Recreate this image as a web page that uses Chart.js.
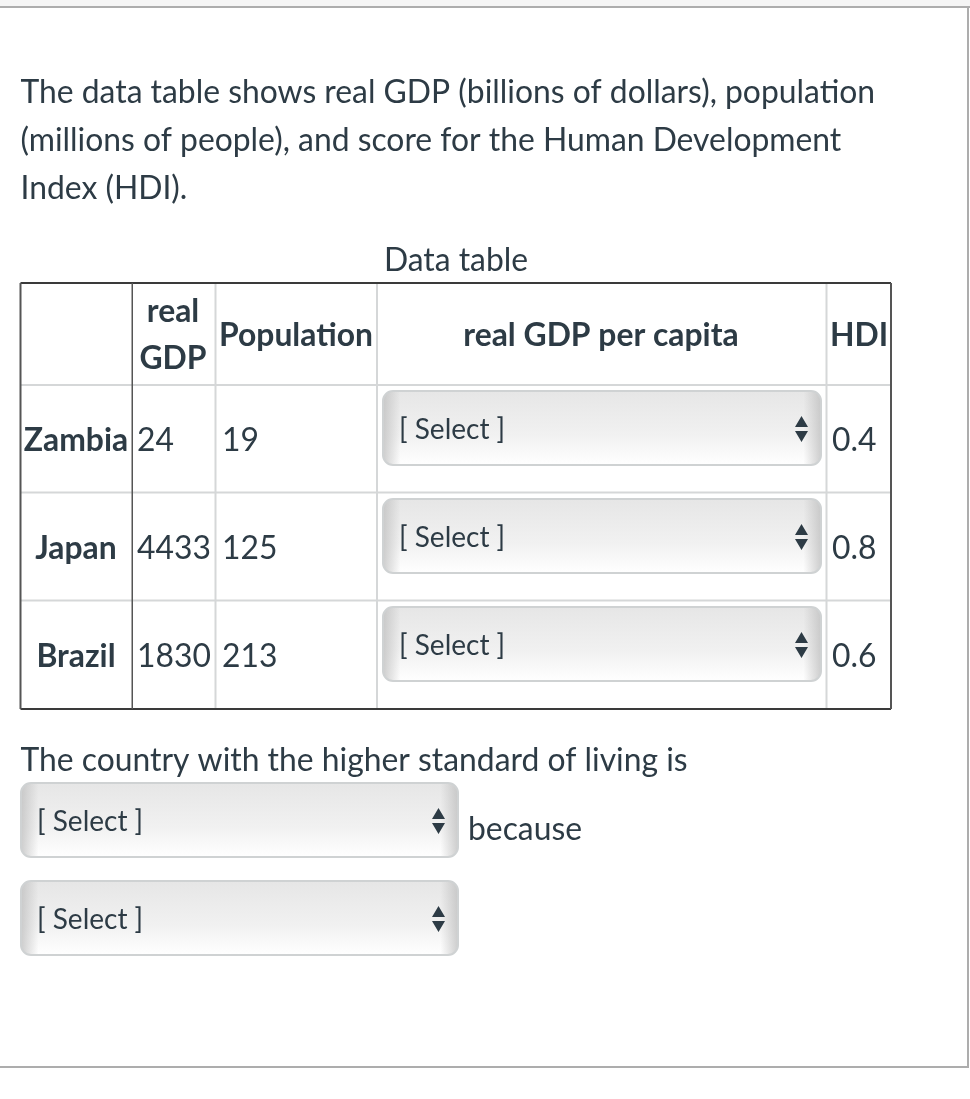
<!DOCTYPE html>
<html>
<head>
<meta charset="utf-8">
<script src="https://cdn.jsdelivr.net/npm/chart.js@4"></script>
<style>
html, body { margin: 0; padding: 0; background: #fff; }
#box { position: absolute; left: 0; top: 0; width: 970px; height: 1099px; }
</style>
</head>
<body>
<div id="box"><canvas id="chart"></canvas></div>
<script>
const countries = ['Zambia', 'Japan', 'Brazil'];
const realGdp = [24, 4433, 1830];
const population = [19, 125, 213];
const hdi = ['0.4', '0.8', '0.6'];

const introLines = [
  'The data table shows real GDP (billions of dollars), population',
  '(millions of people), and score for the Human Development',
  'Index (HDI).'
];
const selectLabel = '[ Select ]';

// layout, in page pixels (the scales run 0-970 and 0-1099)
const colLines = [20.5, 132.5, 215.5, 377, 826.5, 891];
const rowLines = [283, 385, 492.5, 600.5, 709];
const rowBase = [451, 559, 667];
const textColor = '#2D3B45';
const regularFont = '31.85px Lato';
const boldFont = 'bold 31.85px Lato';

function select(chart, x, y, w, h, textX, textBase) {
  const ctx = chart.ctx;
  const l = chart.scales.x.getPixelForValue(x), t = chart.scales.y.getPixelForValue(y);
  ctx.save();
  ctx.beginPath();
  ctx.roundRect(l, t, w, h, 10);
  const g = ctx.createLinearGradient(0, t, 0, t + h);
  g.addColorStop(0, '#e6e6e6');
  g.addColorStop(0.6, '#f1f1f1');
  g.addColorStop(1, '#ffffff');
  ctx.fillStyle = g;
  ctx.fill();
  ctx.clip();
  // darker sides of the control
  const side = ctx.createLinearGradient(l, 0, l + w, 0);
  side.addColorStop(0, 'rgba(190,190,190,0.75)');
  side.addColorStop(0.04, 'rgba(190,190,190,0)');
  side.addColorStop(0.96, 'rgba(190,190,190,0)');
  side.addColorStop(1, 'rgba(190,190,190,0.75)');
  ctx.fillStyle = side;
  ctx.fillRect(l, t, w, h);
  ctx.restore();

  ctx.beginPath();
  ctx.roundRect(l, t, w, h, 10);
  ctx.strokeStyle = '#cfd2d3';
  ctx.lineWidth = 2;
  ctx.stroke();

  ctx.fillStyle = textColor;
  ctx.font = '28px Lato';
  ctx.textAlign = 'left';
  ctx.fillText(selectLabel, textX, textBase);

  // up and down arrows
  const ax = l + w - 19.5, ay = t + h / 2 + 1;
  ctx.beginPath();
  ctx.moveTo(ax - 6.5, ay - 2); ctx.lineTo(ax + 6.5, ay - 2); ctx.lineTo(ax, ay - 13);
  ctx.closePath();
  ctx.moveTo(ax - 6.5, ay + 2); ctx.lineTo(ax + 6.5, ay + 2); ctx.lineTo(ax, ay + 13);
  ctx.closePath();
  ctx.fill();
}

const tablePlugin = {
  id: 'tablePlugin',
  afterDatasetsDraw(chart) {
    const ctx = chart.ctx;
    const X = v => chart.scales.x.getPixelForValue(v);
    const Y = v => chart.scales.y.getPixelForValue(v);
    ctx.save();
    ctx.textBaseline = 'alphabetic';

    // card frame
    ctx.fillStyle = '#f5f5f5';
    ctx.fillRect(0, 0, 970, 6);
    ctx.fillStyle = '#adadad';
    ctx.fillRect(0, 6, 970, 2);
    ctx.fillRect(967, 6, 2, 1062);
    ctx.fillRect(0, 1066, 969, 2);

    // intro text
    ctx.fillStyle = textColor;
    ctx.font = regularFont;
    ctx.textAlign = 'left';
    introLines.forEach((line, i) => ctx.fillText(line, X(20.5), Y(103 + i * 48)));
    ctx.textAlign = 'center';
    ctx.fillText('Data table', X(456), Y(271));

    // light inner rules
    ctx.fillStyle = '#d5d7d8';
    rowLines.slice(1, 4).forEach(r => ctx.fillRect(X(colLines[0]), Y(r) - 1, X(colLines[5]) - X(colLines[0]), 2));
    colLines.slice(2, 5).forEach(c => ctx.fillRect(X(c) - 1, Y(rowLines[0]), 2, Y(rowLines[4]) - Y(rowLines[0])));
    // dark rules
    ctx.fillStyle = '#3a3a3a';
    ctx.fillRect(X(colLines[0]), Y(rowLines[0]) - 1, X(colLines[5]) - X(colLines[0]), 2);
    ctx.fillRect(X(colLines[0]), Y(rowLines[4]) - 1, X(colLines[5]) - X(colLines[0]), 2);
    ctx.fillStyle = '#555555';
    [0, 1, 5].forEach(i => ctx.fillRect(X(colLines[i]) - 1, Y(rowLines[0]), i === 1 ? 1.5 : 2, Y(rowLines[4]) - Y(rowLines[0])));

    // header row
    ctx.fillStyle = textColor;
    ctx.font = boldFont;
    ctx.textAlign = 'center';
    ctx.fillText('real', X(173), Y(322));
    ctx.fillText('GDP', X(173), Y(369));
    ctx.fillText('Population', X(296), Y(346));
    ctx.fillText('real GDP per capita', X(601), Y(346));
    ctx.fillText('HDI', X(859), Y(346));

    // body rows
    countries.forEach((name, i) => {
      ctx.font = boldFont;
      ctx.textAlign = 'center';
      ctx.fillStyle = textColor;
      ctx.fillText(name, X(76), Y(rowBase[i]));
      ctx.font = regularFont;
      ctx.textAlign = 'left';
      ctx.fillText(String(realGdp[i]), X(137), Y(rowBase[i]));
      ctx.fillText(String(population[i]), X(222), Y(rowBase[i]));
      ctx.fillText(hdi[i], X(832), Y(rowBase[i]));
      select(chart, 383, rowBase[i] - 60, 438, 74, 399, rowBase[i] - 12);
    });

    // question below the table
    ctx.fillStyle = textColor;
    ctx.font = regularFont;
    ctx.textAlign = 'left';
    ctx.fillText('The country with the higher standard of living is', X(20.5), Y(771));
    select(chart, 21, 783, 437, 74, 37, 831);
    ctx.fillStyle = textColor;
    ctx.font = regularFont;
    ctx.textAlign = 'left';
    ctx.fillText('because', X(468), Y(840));
    select(chart, 21, 881, 437, 74, 37, 929);
    ctx.restore();
  }
};

new Chart(document.getElementById('chart'), {
  type: 'scatter',
  data: { datasets: [{ data: [], pointRadius: 0 }] },
  options: {
    responsive: true,
    maintainAspectRatio: false,
    animation: false,
    events: [],
    layout: { padding: 0 },
    plugins: { legend: { display: false }, title: { display: false }, tooltip: { enabled: false } },
    scales: {
      x: { type: 'linear', display: false, min: 0, max: 970 },
      y: { type: 'linear', display: false, min: 0, max: 1099, reverse: true }
    }
  },
  plugins: [tablePlugin]
});
</script>
</body>
</html>
